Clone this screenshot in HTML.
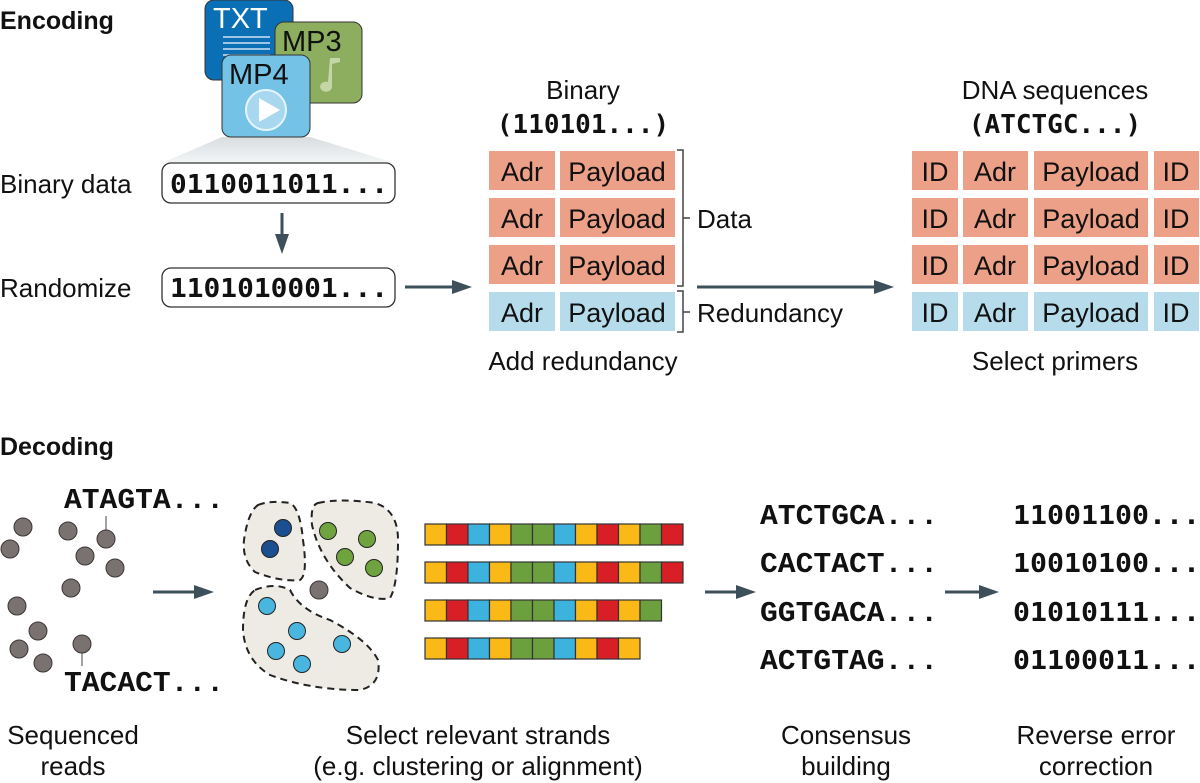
<!DOCTYPE html>
<html><head><meta charset="utf-8"><style>
html,body{margin:0;padding:0;background:#fff;}
svg{display:block;}
.s{font-family:"Liberation Sans",sans-serif;fill:#111;}
.b{font-family:"DejaVu Sans Mono","Liberation Mono",monospace;font-weight:bold;fill:#111;}
.c{font-family:"Liberation Mono",monospace;font-weight:bold;fill:#111;}
</style></head><body>
<svg width="1200" height="783" viewBox="0 0 1200 783" xmlns="http://www.w3.org/2000/svg">
<defs>
<marker id="ah" markerWidth="20" markerHeight="14" refX="4" refY="7" orient="auto" markerUnits="userSpaceOnUse"><path d="M0,0 L20,7 L0,14 z" fill="#3d4f5a"/></marker>
<linearGradient id="tg" x1="0" y1="0" x2="0" y2="1"><stop offset="0" stop-color="#d8dde0"/><stop offset="1" stop-color="#f4f6f7"/></linearGradient>
</defs>
<text x="0" y="29" class="s" font-size="25" font-weight="bold">Encoding</text>
<rect x="205" y="0" width="88" height="80" rx="9" fill="#0b6fb5" stroke="#333" stroke-width="1"/>
<text x="213" y="28" font-family="Liberation Sans" font-size="29" fill="#fff">TXT</text>
<g stroke="#cfe3f3" stroke-width="1.5"><line x1="223" y1="37" x2="270" y2="37"/><line x1="223" y1="43" x2="270" y2="43"/><line x1="223" y1="49" x2="270" y2="49"/><line x1="223" y1="55" x2="270" y2="55"/></g>
<rect x="275" y="22" width="87" height="81" rx="9" fill="#8cae5e" stroke="#333" stroke-width="1"/>
<text x="282" y="51" font-family="Liberation Sans" font-size="29" fill="#111">MP3</text>
<path d="M330,58 L340,58 L340,62 L332,64 L332,86 a6,5 0 1 1 -4,-4 z" fill="#c4d6a8"/>
<path d="M222,137 L310,137 L395,163 L162,163 z" fill="url(#tg)"/>
<rect x="222" y="55" width="88" height="82" rx="9" fill="#74c2e6" stroke="#333" stroke-width="1"/>
<text x="229" y="84" font-family="Liberation Sans" font-size="29" fill="#111">MP4</text>
<circle cx="266" cy="110" r="20" fill="#a8d8ef" stroke="#e6f4fb" stroke-width="2"/>
<path d="M259,98 L280,110 L259,122 z" fill="#fff"/>
<text x="0" y="193" class="s" font-size="26">Binary data</text>
<rect x="162" y="163" width="233" height="40" rx="9" fill="#fff" stroke="#333" stroke-width="1.3"/>
<text x="170" y="193" class="b" font-size="26" textLength="218" lengthAdjust="spacingAndGlyphs">0110011011...</text>
<line x1="282" y1="213" x2="282" y2="238" stroke="#3d4f5a" stroke-width="3" marker-end="url(#ah)"/>
<text x="0" y="297" class="s" font-size="26">Randomize</text>
<rect x="162" y="268" width="233" height="39" rx="9" fill="#fff" stroke="#333" stroke-width="1.3"/>
<text x="170" y="297" class="b" font-size="26" textLength="218" lengthAdjust="spacingAndGlyphs">1101010001...</text>
<line x1="405" y1="287" x2="456" y2="287" stroke="#3d4f5a" stroke-width="3" marker-end="url(#ah)"/>
<text x="583" y="99" class="s" font-size="26" text-anchor="middle">Binary</text>
<text x="583" y="133" class="b" font-size="26" text-anchor="middle">(110101...)</text>
<g font-family="Liberation Sans" font-size="27" fill="#111" text-anchor="middle">
<rect x="489" y="151" width="66" height="39" fill="#eca088"/><rect x="560" y="151" width="115" height="39" fill="#eca088"/>
<rect x="489" y="198" width="66" height="39" fill="#eca088"/><rect x="560" y="198" width="115" height="39" fill="#eca088"/>
<rect x="489" y="245" width="66" height="39" fill="#eca088"/><rect x="560" y="245" width="115" height="39" fill="#eca088"/>
<rect x="489" y="292" width="66" height="39" fill="#b6dcec"/><rect x="560" y="292" width="115" height="39" fill="#b6dcec"/>
<text x="522" y="181">Adr</text><text x="617" y="181">Payload</text>
<text x="522" y="228">Adr</text><text x="617" y="228">Payload</text>
<text x="522" y="275">Adr</text><text x="617" y="275">Payload</text>
<text x="522" y="322">Adr</text><text x="617" y="322">Payload</text>
</g>
<path d="M677,150 L683,150 L683,286 L677,286 M683,218 L690,218" fill="none" stroke="#444" stroke-width="1.5"/>
<path d="M677,291 L683,291 L683,332 L677,332 M683,312 L690,312" fill="none" stroke="#444" stroke-width="1.5"/>
<text x="697" y="228" class="s" font-size="26">Data</text>
<text x="697" y="322" class="s" font-size="26">Redundancy</text>
<text x="583" y="370" class="s" font-size="26" text-anchor="middle">Add redundancy</text>
<line x1="697" y1="287" x2="878" y2="287" stroke="#3d4f5a" stroke-width="3" marker-end="url(#ah)"/>
<text x="1055" y="99" class="s" font-size="26" text-anchor="middle">DNA sequences</text>
<text x="1055" y="133" class="b" font-size="26" text-anchor="middle">(ATCTGC...)</text>
<g font-family="Liberation Sans" font-size="27" fill="#111" text-anchor="middle">
<g fill="#eca088">
<rect x="912" y="151" width="46" height="39"/><rect x="963" y="151" width="65" height="39"/><rect x="1034" y="151" width="114" height="39"/><rect x="1154" y="151" width="45" height="39"/>
<rect x="912" y="198" width="46" height="39"/><rect x="963" y="198" width="65" height="39"/><rect x="1034" y="198" width="114" height="39"/><rect x="1154" y="198" width="45" height="39"/>
<rect x="912" y="245" width="46" height="39"/><rect x="963" y="245" width="65" height="39"/><rect x="1034" y="245" width="114" height="39"/><rect x="1154" y="245" width="45" height="39"/>
</g>
<g fill="#b6dcec">
<rect x="912" y="292" width="46" height="39"/><rect x="963" y="292" width="65" height="39"/><rect x="1034" y="292" width="114" height="39"/><rect x="1154" y="292" width="45" height="39"/>
</g>
<text x="935" y="181">ID</text><text x="995" y="181">Adr</text><text x="1091" y="181">Payload</text><text x="1176" y="181">ID</text>
<text x="935" y="228">ID</text><text x="995" y="228">Adr</text><text x="1091" y="228">Payload</text><text x="1176" y="228">ID</text>
<text x="935" y="275">ID</text><text x="995" y="275">Adr</text><text x="1091" y="275">Payload</text><text x="1176" y="275">ID</text>
<text x="935" y="322">ID</text><text x="995" y="322">Adr</text><text x="1091" y="322">Payload</text><text x="1176" y="322">ID</text>
</g>
<text x="1055" y="370" class="s" font-size="26" text-anchor="middle">Select primers</text>
<text x="0" y="455" class="s" font-size="25" font-weight="bold">Decoding</text>
<text x="64" y="508" class="c" font-size="29" textLength="160" lengthAdjust="spacingAndGlyphs">ATAGTA...</text>
<text x="64" y="691" class="c" font-size="29" textLength="160" lengthAdjust="spacingAndGlyphs">TACACT...</text>
<line x1="106" y1="516" x2="106" y2="530" stroke="#444" stroke-width="1"/>
<line x1="82" y1="653" x2="82" y2="666" stroke="#444" stroke-width="1"/>
<g fill="#7a7270" stroke="#3a3535" stroke-width="1">
<circle cx="23" cy="527" r="9"/><circle cx="10" cy="549" r="9"/><circle cx="68" cy="531" r="9"/><circle cx="106" cy="539" r="9"/><circle cx="85" cy="556" r="9"/><circle cx="115" cy="568" r="9"/><circle cx="71" cy="588" r="9"/><circle cx="17" cy="606" r="9"/><circle cx="38" cy="631" r="9"/><circle cx="19" cy="649" r="9"/><circle cx="43" cy="663" r="9"/><circle cx="82" cy="644" r="9"/>
<circle cx="319" cy="590" r="9"/>
</g>
<line x1="153" y1="592" x2="198" y2="592" stroke="#3d4f5a" stroke-width="3" marker-end="url(#ah)"/>
<g fill="#eeebe4" stroke="#222" stroke-width="2" stroke-dasharray="7,5">
<path d="M258,505 Q270,500 290,503 Q300,508 303,540 Q308,575 300,580 Q280,582 255,572 Q242,560 244,540 Q248,512 258,505 z"/>
<path d="M318,503 Q340,498 375,503 Q398,510 398,540 Q398,585 390,598 Q375,602 350,588 Q320,560 312,525 Q310,505 318,503 z"/>
<path d="M255,590 Q275,582 290,590 Q300,610 330,620 Q368,640 378,660 Q382,685 360,690 Q310,690 270,675 Q245,660 243,630 Q243,598 255,590 z"/>
</g>
<g stroke="#222" stroke-width="1">
<circle cx="283" cy="528" r="8.5" fill="#1c4f8f"/><circle cx="270" cy="549" r="8.5" fill="#1c4f8f"/>
<circle cx="328" cy="531" r="8.5" fill="#6fa33f"/><circle cx="367" cy="539" r="8.5" fill="#6fa33f"/><circle cx="345" cy="557" r="8.5" fill="#6fa33f"/><circle cx="374" cy="568" r="8.5" fill="#6fa33f"/>
<circle cx="267" cy="606" r="8.5" fill="#49b6e0"/><circle cx="297" cy="631" r="8.5" fill="#49b6e0"/><circle cx="276" cy="651" r="8.5" fill="#49b6e0"/><circle cx="342" cy="644" r="8.5" fill="#49b6e0"/><circle cx="302" cy="664" r="8.5" fill="#49b6e0"/>
</g>
<g stroke="#333" stroke-width="1.2">
<g id="r1">
<rect x="425" y="524" width="21.5" height="21" fill="#fbb917"/><rect x="446.5" y="524" width="21.5" height="21" fill="#d81f26"/><rect x="468" y="524" width="21.5" height="21" fill="#3bb3de"/><rect x="489.5" y="524" width="21.5" height="21" fill="#fbb917"/><rect x="511" y="524" width="21.5" height="21" fill="#6c9f3e"/><rect x="532.5" y="524" width="21.5" height="21" fill="#6c9f3e"/><rect x="554" y="524" width="21.5" height="21" fill="#3bb3de"/><rect x="575.5" y="524" width="21.5" height="21" fill="#fbb917"/><rect x="597" y="524" width="21.5" height="21" fill="#d81f26"/><rect x="618.5" y="524" width="21.5" height="21" fill="#fbb917"/><rect x="640" y="524" width="21.5" height="21" fill="#6c9f3e"/><rect x="661.5" y="524" width="21.5" height="21" fill="#d81f26"/>
</g>
<use href="#r1" y="38"/>
<g transform="translate(0,76)">
<rect x="425" y="524" width="21.5" height="21" fill="#fbb917"/><rect x="446.5" y="524" width="21.5" height="21" fill="#d81f26"/><rect x="468" y="524" width="21.5" height="21" fill="#3bb3de"/><rect x="489.5" y="524" width="21.5" height="21" fill="#fbb917"/><rect x="511" y="524" width="21.5" height="21" fill="#6c9f3e"/><rect x="532.5" y="524" width="21.5" height="21" fill="#6c9f3e"/><rect x="554" y="524" width="21.5" height="21" fill="#3bb3de"/><rect x="575.5" y="524" width="21.5" height="21" fill="#fbb917"/><rect x="597" y="524" width="21.5" height="21" fill="#d81f26"/><rect x="618.5" y="524" width="21.5" height="21" fill="#fbb917"/><rect x="640" y="524" width="21.5" height="21" fill="#6c9f3e"/>
</g>
<g transform="translate(0,114)">
<rect x="425" y="524" width="21.5" height="21" fill="#fbb917"/><rect x="446.5" y="524" width="21.5" height="21" fill="#d81f26"/><rect x="468" y="524" width="21.5" height="21" fill="#3bb3de"/><rect x="489.5" y="524" width="21.5" height="21" fill="#fbb917"/><rect x="511" y="524" width="21.5" height="21" fill="#6c9f3e"/><rect x="532.5" y="524" width="21.5" height="21" fill="#6c9f3e"/><rect x="554" y="524" width="21.5" height="21" fill="#3bb3de"/><rect x="575.5" y="524" width="21.5" height="21" fill="#fbb917"/><rect x="597" y="524" width="21.5" height="21" fill="#d81f26"/><rect x="618.5" y="524" width="21.5" height="21" fill="#fbb917"/>
</g>
</g>
<line x1="705" y1="592" x2="740" y2="592" stroke="#3d4f5a" stroke-width="3" marker-end="url(#ah)"/>
<line x1="945" y1="592" x2="983" y2="592" stroke="#3d4f5a" stroke-width="3" marker-end="url(#ah)"/>
<g class="c" font-size="29">
<text x="760" y="524" textLength="178" lengthAdjust="spacingAndGlyphs">ATCTGCA...</text>
<text x="760" y="572" textLength="178" lengthAdjust="spacingAndGlyphs">CACTACT...</text>
<text x="760" y="621" textLength="178" lengthAdjust="spacingAndGlyphs">GGTGACA...</text>
<text x="760" y="669" textLength="178" lengthAdjust="spacingAndGlyphs">ACTGTAG...</text>
</g>
<g class="b" font-size="26">
<text x="1013" y="524" textLength="187" lengthAdjust="spacingAndGlyphs">11001100...</text>
<text x="1013" y="572" textLength="187" lengthAdjust="spacingAndGlyphs">10010100...</text>
<text x="1013" y="621" textLength="187" lengthAdjust="spacingAndGlyphs">01010111...</text>
<text x="1013" y="669" textLength="187" lengthAdjust="spacingAndGlyphs">01100011...</text>
</g>
<g class="s" font-size="26" text-anchor="middle">
<text x="73" y="744">Sequenced</text><text x="73" y="775">reads</text>
<text x="478" y="744">Select relevant strands</text><text x="478" y="775">(e.g. clustering or alignment)</text>
<text x="846" y="744">Consensus</text><text x="846" y="775">building</text>
<text x="1096" y="744">Reverse error</text><text x="1096" y="775">correction</text>
</g>
</svg>
</body></html>
